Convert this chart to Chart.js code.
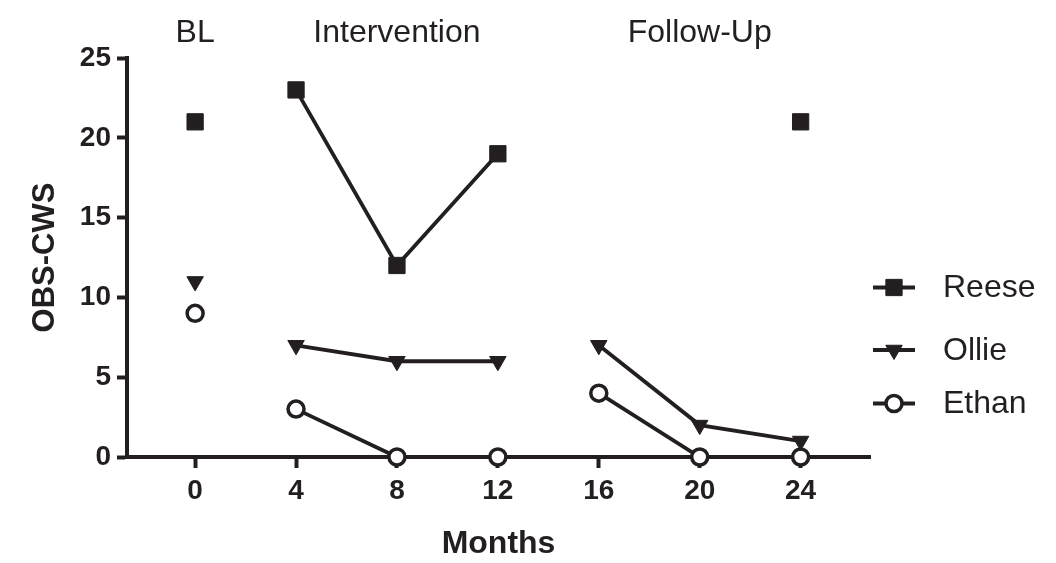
<!DOCTYPE html>
<html>
<head>
<meta charset="utf-8">
<script src="https://cdn.jsdelivr.net/npm/chart.js@4.4.0/dist/chart.umd.min.js"></script>
<style>
html,body{margin:0;padding:0;background:#fff;}
#wrap{width:1056px;height:563px;position:relative;}
</style>
</head>
<body>
<div id="wrap"><canvas id="c" width="1056" height="563"></canvas></div>
<script>
// ---- data ----
const months = [0, 4, 8, 12, 16, 20, 24];
const reese  = [21, 23, 12, 19, null, null, 21];
const ollie  = [11, 7, 6, 6, 7, 2, 1];
const ethan  = [9, 3, 0, 0, 4, 0, 0];
const seriesNames = ['Reese', 'Ollie', 'Ethan'];
const phaseLabels = ['BL', 'Intervention', 'Follow-Up'];
const phaseCenters = [0, 8, 20];
const phaseBreaks = [2, 14];
const xTickValues = [0, 4, 8, 12, 16, 20, 24];
const yTickValues = [0, 5, 10, 15, 20, 25];

// ---- styling ----
const INK = '#231f20';
const FONT = '"Liberation Sans", Arial, Helvetica, sans-serif';

function phaseOf(x) {
  let p = 0;
  for (const b of phaseBreaks) if (x > b) p++;
  return p;
}

const markerStyles = [
  { pointStyle: 'rect', radius: 11.5, rotation: 0, borderWidth: 1, bg: INK },
  { pointStyle: 'triangle', radius: 9.5, rotation: 180, borderWidth: 1, bg: INK },
  { pointStyle: 'circle', radius: 8, rotation: 0, borderWidth: 3.5, bg: '#ffffff' }
];

function makeDataset(name, values, m) {
  return {
    label: name,
    data: months.map((mo, i) => ({ x: mo, y: values[i] })),
    borderColor: INK,
    borderWidth: 3.8,
    backgroundColor: m.bg,
    pointStyle: m.pointStyle,
    pointRadius: m.radius,
    pointHoverRadius: m.radius,
    pointRotation: m.rotation,
    pointBorderWidth: m.borderWidth,
    pointBorderColor: INK,
    pointBackgroundColor: m.bg,
    spanGaps: false,
    tension: 0,
    clip: false,
    segment: {
      borderColor: ctx => phaseOf(ctx.p0.parsed.x) !== phaseOf(ctx.p1.parsed.x) ? 'rgba(0,0,0,0)' : undefined
    }
  };
}

const datasets = [
  makeDataset(seriesNames[0], reese, markerStyles[0]),
  makeDataset(seriesNames[1], ollie, markerStyles[1]),
  makeDataset(seriesNames[2], ethan, markerStyles[2])
];

const phasePlugin = {
  id: 'phaseLabels',
  afterDraw(chart) {
    const ctx = chart.ctx;
    const xs = chart.scales.x;
    ctx.save();
    ctx.fillStyle = INK;
    ctx.font = '32px ' + FONT;
    ctx.textAlign = 'center';
    ctx.textBaseline = 'alphabetic';
    phaseLabels.forEach((t, i) => {
      ctx.fillText(t, xs.getPixelForValue(phaseCenters[i]), 42);
    });
    ctx.restore();
  }
};

const legendRows = [287.5, 350, 403.5];
const legendPlugin = {
  id: 'customLegend',
  afterDraw(chart) {
    const ctx = chart.ctx;
    ctx.save();
    chart.data.datasets.forEach((ds, i) => {
      const y = legendRows[i];
      ctx.strokeStyle = INK;
      ctx.lineWidth = 3.8;
      ctx.beginPath();
      ctx.moveTo(873, y);
      ctx.lineTo(915, y);
      ctx.stroke();
      const m = markerStyles[i];
      ctx.fillStyle = m.bg;
      ctx.strokeStyle = INK;
      ctx.lineWidth = m.borderWidth;
      Chart.helpers.drawPoint(ctx, {
        pointStyle: m.pointStyle,
        radius: m.radius,
        rotation: m.rotation,
        borderWidth: m.borderWidth
      }, 894, y);
      ctx.fillStyle = INK;
      ctx.font = '32px ' + FONT;
      ctx.textAlign = 'left';
      ctx.textBaseline = 'middle';
      ctx.fillText(ds.label, 943, y + 1);
    });
    ctx.restore();
  }
};

new Chart(document.getElementById('c'), {
  type: 'line',
  data: { datasets },
  options: {
    responsive: false,
    animation: false,
    events: [],
    layout: { padding: { left: 0, right: 186, top: 58, bottom: 0 } },
    plugins: {
      legend: { display: false },
      tooltip: { enabled: false }
    },
    scales: {
      x: {
        type: 'linear',
        min: -2.7,
        max: 26.75,
        afterBuildTicks: s => { s.ticks = xTickValues.map(v => ({ value: v })); },
        afterFit: s => { s.height = 106; },
        border: { display: true, color: INK, width: 4 },
        grid: { display: true, drawOnChartArea: false, drawTicks: true, tickLength: 11, tickWidth: 4, tickColor: INK },
        ticks: {
          color: INK,
          font: { family: FONT, size: 28, weight: 'bold' },
          padding: 6,
          maxRotation: 0,
          autoSkip: false
        },
        title: {
          display: true,
          text: 'Months',
          color: INK,
          font: { family: FONT, size: 32, weight: 'bold' },
          padding: { top: 2, bottom: 0 }
        }
      },
      y: {
        type: 'linear',
        min: 0,
        max: 25,
        afterBuildTicks: s => { s.ticks = yTickValues.map(v => ({ value: v })); },
        afterFit: s => { s.width = 127; },
        border: { display: true, color: INK, width: 4 },
        grid: { display: true, drawOnChartArea: false, drawTicks: true, tickLength: 10, tickWidth: 4, tickColor: INK },
        ticks: {
          color: INK,
          font: { family: FONT, size: 28, weight: 'bold' },
          padding: 6
        },
        title: {
          display: true,
          text: 'OBS-CWS',
          color: INK,
          font: { family: FONT, size: 31, weight: 'bold' },
          padding: { top: 27, bottom: 0 }
        }
      }
    }
  },
  plugins: [phasePlugin, legendPlugin]
});
</script>
</body>
</html>
